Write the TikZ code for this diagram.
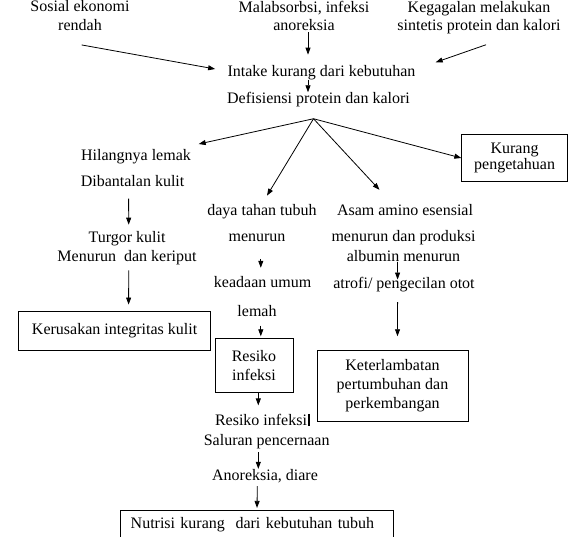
\documentclass[tikz,border=0pt]{standalone}
\usepackage{fontspec}
\setmainfont{Liberation Serif}
\usetikzlibrary{arrows.meta}

\begin{document}
\begin{tikzpicture}[x=1pt,y=-1pt,line width=0.8pt,
  >={Triangle[length=7pt,width=5pt]},
  txt/.style={inner sep=0pt,align=center,font=\fontsize{16}{18.4}\selectfont},
  kotak/.style={draw,inner sep=0pt,align=center,font=\fontsize{16}{18.8}\selectfont}]
  \useasboundingbox (0,0) rectangle (575,536);

  \node[txt] (sosial) at (80,15.7) {Sosial ekonomi\\rendah};
  \node[txt] (malab) at (304,15.7) {Malabsorbsi, infeksi\\anoreksia};
  \node[txt] (gagal) at (479,17.5) {Kegagalan melakukan\\sintetis protein dan kalori};
  \node[txt] (intake) at (321.5,72.3) {Intake kurang dari kebutuhan};
  \node[txt] (defis) at (318.5,100) {Defisiensi protein dan kalori};
  \coordinate (cabang) at ([xshift=-5pt,yshift=-11pt]defis.south);

  \node[txt] (hilang) at (136,156.7) {Hilangnya lemak};
  \node[txt] (bantal) at (132.6,181.5) {Dibantalan kulit};
  \node[txt,font=\fontsize{16}{19.4}\selectfont] (turgor) at (127,248) {Turgor kulit\\Menurun\ \ dan keriput};
  \node[kotak,minimum width=192pt,minimum height=38.3pt] (rusak) at (114.6,330.8) {Kerusakan integritas kulit};

  \node[txt] (daya) at (262,211.7) {daya tahan tubuh};
  \node[txt] (turun) at (257,238.3) {menurun};
  \node[txt] (keadaan) at (262.6,282.5) {keadaan umum};
  \node[txt] (lemah) at (257,310.9) {lemah};
  \node[kotak,minimum width=78pt,minimum height=54pt,font=\fontsize{16}{19.4}\selectfont] (resiko) at (254,365.3) {Resiko\\infeksi};
  \node[txt] (resiko2) at (261,419.9) {Resiko infeksi};
  \node[txt] (saluran) at (266.7,441.7) {Saluran pencernaan};
  \node[txt] (anoreksia) at (265,476) {Anoreksia, diare};
  \node[kotak,text width=252.6pt,align=left,inner xsep=10pt,inner ysep=7pt] (nutrisi) at (257,525) {Nutrisi kurang\ \ dari kebutuhan tubuh};

  \node[txt] (asam) at (405,209.9) {Asam amino esensial};
  \node[txt,font=\fontsize{16}{19.4}\selectfont] (produksi) at (403.5,246.2) {menurun dan produksi\\albumin menurun};
  \node[txt] (atrofi) at (404,284.3) {atrofi/ pengecilan otot};
  \node[kotak,minimum width=151pt,minimum height=71.7pt] (lambat) at (392.5,385.8) {Keterlambatan\\pertumbuhan dan\\perkembangan};

  \node[kotak,minimum width=105.7pt,minimum height=47.4pt,font=\fontsize{16}{16.7}\selectfont] (tahu) at (514.6,158) {Kurang\\pengetahuan};

  \draw[->] ([xshift=1.6pt,yshift=-14pt]sosial.south) -- ([xshift=-12pt,yshift=3.3pt]intake.west);
  \draw[->] ([xshift=4pt,yshift=-1.3pt]malab.south) -- ([xshift=-13.5pt,yshift=10pt]intake.north);
  \draw[->] ([xshift=7pt,yshift=-10.4pt]gagal.south) -- ([xshift=19.8pt,yshift=10pt]intake.east);
  \draw[->] ([xshift=-13.5pt]intake.south) -- ([xshift=-10.5pt]defis.north);

  \draw[->] (cabang) -- ([xshift=7.4pt,yshift=5pt]hilang.north east);
  \draw[->] (cabang) -- ([xshift=5pt,yshift=8.4pt]daya.north);
  \draw[->] (cabang) -- ([xshift=-25.5pt,yshift=14pt]asam.north);
  \draw[->] (cabang) -- (tahu.west);

  \draw[->] ([xshift=-4pt,yshift=-11pt]bantal.south) -- ([xshift=1.7pt,yshift=6pt]turgor.north);
  \draw[->] ([xshift=1.7pt,yshift=-5pt]turgor.south) -- ([xshift=14pt,yshift=6.7pt]rusak.north);

  \draw[->] ([xshift=3.8pt,yshift=-16.3pt]turun.south) -- ([xshift=-1.8pt,yshift=8.7pt]keadaan.north);
  \draw[->] ([xshift=3.8pt,yshift=-8.6pt]lemah.south) -- ([xshift=6.8pt,yshift=1.6pt]resiko.north);
  \draw[->] ([xshift=4.3pt]resiko.south) -- ([xshift=-2.7pt,yshift=8.4pt]resiko2.north);
  \draw[line width=1.6pt] ([xshift=1.6pt]resiko2.north east) -- ([xshift=1.6pt]resiko2.south east);
  \draw[->] ([xshift=-8.4pt,yshift=-2.7pt]saluran.south) -- ([xshift=-6.7pt]anoreksia.north);
  \draw[->] ([xshift=-7.7pt,yshift=-3pt]anoreksia.south) -- ([yshift=2.4pt]nutrisi.north);

  \draw[->] ([xshift=-6pt]produksi.south) -- ([xshift=-6.4pt,yshift=-3pt]atrofi.north);
  \draw[->] ([xshift=-6.4pt,yshift=-10pt]atrofi.south) -- ([xshift=5pt,yshift=13.3pt]lambat.north);
\end{tikzpicture}
\end{document}
